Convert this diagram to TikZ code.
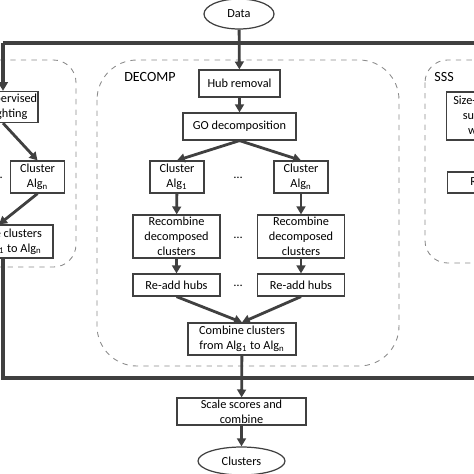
\documentclass[tikz,border=0pt]{standalone}
\usepackage{fontspec}
\setmainfont{Carlito}
\usetikzlibrary{shapes.geometric,arrows.meta}

\begin{document}
\begin{tikzpicture}[x=0.02cm,y=-0.02cm,
    box/.style={draw=black!75,line width=0.7pt,align=center,inner sep=0.5pt,font=\fontsize{7}{8.5}\selectfont},
    oval/.style={box,ellipse},
    arr/.style={line width=1.6pt,black!75,-{Triangle[length=4.5pt,width=5pt]}},
    bus/.style={line width=2.2pt,black!75},
    panel/.style={draw=black!45,dashed,line width=0.5pt},
    lbl/.style={font=\fontsize{8}{9}\selectfont,anchor=west,inner sep=0pt}]
  \useasboundingbox (0,0) rectangle (474,474);
  \clip (0,0) rectangle (474,474);
  %\draw[very thin,lightgray,step=0.5cm] (0,0) grid (474,474);
  % panels
  \draw[panel,rounded corners=0.45cm] (-60,60) rectangle (76,267);
  \draw[panel,rounded corners=0.8cm] (97,60) rectangle (399,366);
  \draw[panel,rounded corners=0.45cm] (425,60) rectangle (540,263);
  \node[lbl] (decomp) at (124,77) {DECOMP};
  \node[lbl] (sss) at (434,77) {SSS};
  % main column
  \node[oval,minimum width=1.4cm,minimum height=0.6cm] (data) at (239,14) {Data};
  \node[box,minimum width=1.62cm,minimum height=0.54cm] (hub) at (239.5,83.5) {Hub removal};
  \node[box,minimum width=2.26cm,minimum height=0.54cm] (go) at (239.5,126.5) {GO decomposition};
  \node[box,minimum width=1.08cm,minimum height=0.64cm] (alg1) at (177,177) {Cluster\\Alg\textsubscript{1}};
  \node[box,minimum width=1.08cm,minimum height=0.64cm] (algn) at (301,177) {Cluster\\Alg\textsubscript{n}};
  \node[box,minimum width=1.74cm,minimum height=0.86cm] (rec1) at (176.5,236.5) {Recombine\\decomposed\\clusters};
  \node[box,minimum width=1.74cm,minimum height=0.86cm] (recn) at (301,236.5) {Recombine\\decomposed\\clusters};
  \node[box,minimum width=1.74cm,minimum height=0.44cm] (add1) at (176.5,285) {Re-add hubs};
  \node[box,minimum width=1.74cm,minimum height=0.44cm] (addn) at (301,285) {Re-add hubs};
  \foreach \y in {178,238,286}
    \node[font=\fontsize{7}{8.5}\selectfont] (dots\y) at (238,\y) {\dots};
  \node[box,minimum width=2.16cm,minimum height=0.64cm] (comb) at (242,339) {Combine clusters\\from Alg\textsubscript{1} to Alg\textsubscript{n}};
  \node[box,minimum width=2.58cm,minimum height=0.54cm] (scale) at (241.5,411.5) {Scale scores and\\combine};
  \node[oval,minimum width=1.74cm,minimum height=0.56cm] (clus) at (241.5,461) {Clusters};
  % left panel
  \node[box,minimum width=1.36cm,minimum height=0.62cm] (wt) at (3,107) {Unsupervised\\weighting};
  \node[box,minimum width=1.08cm,minimum height=0.64cm] (lalgn) at (37.5,177) {Cluster\\Alg\textsubscript{n}};
  \node[font=\fontsize{7}{8.5}\selectfont] (ldots) at (-2,178) {\dots};
  \node[box,minimum width=2.16cm,minimum height=0.66cm] (lcomb) at (-1,241.5) {Combine clusters\\from Alg\textsubscript{1} to Alg\textsubscript{n}};
  % right panel
  \node[box,minimum width=1.84cm,minimum height=0.96cm,anchor=west] (size) at (446,116) {Size-normalized\\subnetwork\\weighting};
  \node[box,minimum width=1.84cm,minimum height=0.42cm,anchor=west] (rew) at (447,182.5) {Reweight};
  % buses
  \coordinate (tl) at (3,43);
  \coordinate (bl) at (3,378);
  \draw[bus] (480,43) -- (tl);
  \draw[bus,-{Triangle[length=5pt,width=5.5pt]}] (tl) -- (wt);
  \draw[bus] (wt |- lcomb.south) -- (bl) -- (480,378);
  % arrows
  \draw[arr] (data) -- (hub);
  \draw[arr] (hub) -- (go);
  \draw[arr] (go.south) -- (alg1.north);
  \draw[arr] (go.south) -- (algn.north);
  \draw[arr] (alg1) -- (rec1);
  \draw[arr] (algn) -- (recn);
  \draw[arr] (rec1) -- (add1);
  \draw[arr] (recn) -- (addn);
  \draw[arr] (add1.south) -- (comb.north);
  \draw[arr] (addn.south) -- (comb.north);
  \draw[arr] (comb) -- (scale);
  \draw[arr] (scale) -- (clus);
  \draw[arr] (wt.south) -- (lalgn.north);
  \draw[arr] (lalgn.south) -- (lcomb.north);
\end{tikzpicture}
\end{document}
